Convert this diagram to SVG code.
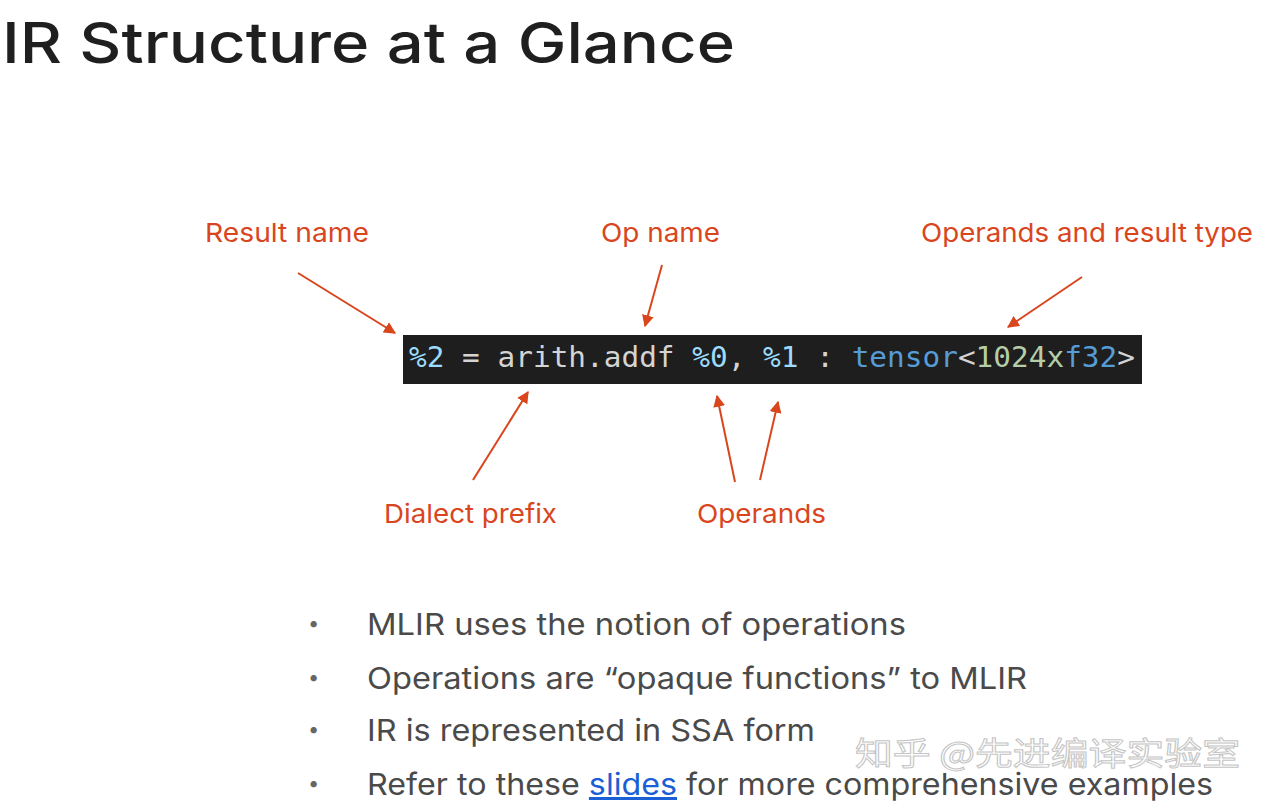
<svg xmlns="http://www.w3.org/2000/svg" width="1274" height="805" viewBox="0 0 1274 805">
<style>
.lbl{font-family:"Inter","Open Sans","Liberation Sans",sans-serif;font-size:26px;fill:#d9461e}
.bul{font-family:"Inter","Open Sans","Liberation Sans",sans-serif;font-size:30px;fill:#4a4a4a}
.dot{font-family:"Inter","Liberation Sans",sans-serif;font-size:20px;fill:#666}
.code{font-family:"DejaVu Sans Mono","Liberation Mono",monospace;font-size:29px;fill:#d4d4d4}
.arr{stroke:#d9461e;stroke-width:2;fill:none;marker-end:url(#ah)}
</style>
<defs><marker id="ah" viewBox="0 0 10 10" refX="9" refY="5" markerWidth="6" markerHeight="6" orient="auto"><path d="M0,0L10,5L0,10z" fill="#d9461e"/></marker></defs>
<rect width="1274" height="805" fill="#fff"/>
<text x="2" y="63" font-family="Inter,Open Sans,Liberation Sans,sans-serif" font-weight="500" font-size="56" fill="#1f1f1f" textLength="733" lengthAdjust="spacingAndGlyphs">IR Structure at a Glance</text>
<g id="code"><rect x="403" y="335" width="739" height="49" fill="#1e1e1e"/>
<text class="code" x="409" y="367" textLength="726" lengthAdjust="spacingAndGlyphs"><tspan fill="#9cdcfe">%2</tspan> = arith.addf <tspan fill="#9cdcfe">%0</tspan>, <tspan fill="#9cdcfe">%1</tspan> : <tspan fill="#569cd6">tensor</tspan>&lt;<tspan fill="#b5cea8">1024</tspan><tspan fill="#b5cea8">x</tspan><tspan fill="#569cd6">f32</tspan>&gt;</text></g>
<g id="n-result"><text class="lbl" x="205" y="242" textLength="164" lengthAdjust="spacingAndGlyphs">Result name</text></g>
<g id="n-op"><text class="lbl" x="601" y="242" textLength="119" lengthAdjust="spacingAndGlyphs">Op name</text></g>
<g id="n-type"><text class="lbl" x="921" y="242" textLength="332" lengthAdjust="spacingAndGlyphs">Operands and result type</text></g>
<g id="n-dialect"><text class="lbl" x="384" y="523" textLength="173" lengthAdjust="spacingAndGlyphs">Dialect prefix</text></g>
<g id="n-operands"><text class="lbl" x="697" y="523" textLength="129" lengthAdjust="spacingAndGlyphs">Operands</text></g>
<g id="connectors">
<line class="arr" x1="298" y1="273" x2="395" y2="333"/>
<line class="arr" x1="662" y1="265" x2="645" y2="326"/>
<line class="arr" x1="1082" y1="277" x2="1008" y2="327"/>
<line class="arr" x1="473" y1="480" x2="528" y2="392"/>
<line class="arr" x1="735" y1="482" x2="717" y2="396"/>
<line class="arr" x1="760" y1="480" x2="778" y2="402"/>
</g>
<g id="bullets">
<text class="dot" x="308" y="630">•</text><text class="bul" x="367" y="635" textLength="539" lengthAdjust="spacingAndGlyphs">MLIR uses the notion of operations</text>
<text class="dot" x="308" y="684">•</text><text class="bul" x="367" y="689" textLength="660" lengthAdjust="spacingAndGlyphs">Operations are “opaque functions” to MLIR</text>
<text class="dot" x="308" y="736">•</text><text class="bul" x="367" y="741" textLength="448" lengthAdjust="spacingAndGlyphs">IR is represented in SSA form</text>
<text class="dot" x="308" y="790">•</text><text class="bul" x="367" y="795" textLength="846" lengthAdjust="spacingAndGlyphs">Refer to these <tspan fill="#1a5fd6" text-decoration="underline">slides</tspan> for more comprehensive examples</text>
</g>
<text x="855" y="765" font-family="Noto Sans CJK SC,sans-serif" font-size="32" fill="#ffffff" stroke="#bbbbbb" stroke-width="1" opacity="0.85" textLength="385" lengthAdjust="spacingAndGlyphs">知乎 @先进编译实验室</text>
</svg>
